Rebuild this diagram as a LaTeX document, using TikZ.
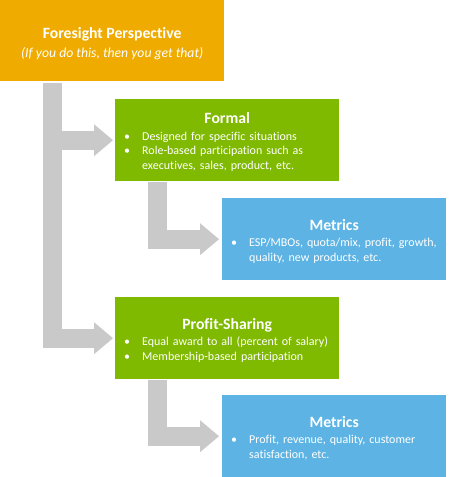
\documentclass[tikz,border=0pt]{standalone}
\usepackage{fontspec}
\setmainfont{Carlito}[Ligatures=NoCommon]
\usetikzlibrary{positioning, arrows.meta, calc}

\definecolor{foreorange}{RGB}{240,171,0}
\definecolor{plangreen}{RGB}{127,186,0}
\definecolor{metricblue}{RGB}{93,180,228}
\definecolor{flowgray}{RGB}{201,201,201}

\newcommand{\bulletline}[1]{\noindent\makebox[18pt][l]{\textbullet}%
    \parbox[t]{198pt}{\raggedright #1}\par}

\begin{document}
\begin{tikzpicture}[
        x=1pt, y=-1pt,
        every node/.style={inner sep=0pt, text=white},
        card/.style={rectangle, anchor=north west, minimum width=224pt, minimum height=82pt},
        headcard/.style={card, fill=foreorange, minimum height=81pt},
        plancard/.style={card, fill=plangreen},
        metriccard/.style={card, fill=metricblue},
        cardhead/.style={anchor=base, font=\bfseries\fontsize{15.7}{19}\selectfont},
        cardnote/.style={anchor=base, font=\itshape\fontsize{13.7}{16}\selectfont},
        cardtext/.style={anchor=base west, text width=206pt, align=left,
            font=\fontsize{12}{14.8}\selectfont},
        flowarrow/.style={draw=flowgray, line width=19pt, line join=miter,
            -{Triangle[length=19pt, width=32pt, line width=0pt]}}
    ]
        \useasboundingbox (0,0) rectangle (449,477);

        % cards
        \node[headcard] (fore) at (0,0) {};
        \node[plancard] (formal) at (115,99) {};
        \node[metriccard] (metrics1) at (222,198) {};
        \node[plancard] (profit) at (115,297) {};
        \node[metriccard] (metrics2) at (222,395) {};

        % texts
        \node[cardhead] (forehead) at ($(fore.north)+(0,38.5)$) {Foresight Perspective};
        \node[cardnote] (forenote) at ($(fore.north)+(0,57)$) {(If you do this, then you get that)};

        \node[cardhead] (formalhead) at ($(formal.north)+(0,24.3)$) {Formal};
        \node[cardtext] (formaltext) at ($(formal.north west)+(9,41)$) {%
            \bulletline{Designed for specific situations}
            \bulletline{Role-based participation such as\\executives, sales, product, etc.}};

        \node[cardhead] (metrics1head) at ($(metrics1.north)+(0,32.3)$) {Metrics};
        \node[cardtext] (metrics1text) at ($(metrics1.north west)+(9,48.5)$) {%
            \bulletline{ESP/MBOs, quota/mix, profit, growth,\\quality, new products, etc.}};

        \node[cardhead] (profithead) at ($(profit.north)+(0,32)$) {Profit-Sharing};
        \node[cardtext] (profittext) at ($(profit.north west)+(9,48.3)$) {%
            \bulletline{Equal award to all (percent of salary)}
            \bulletline{Membership-based participation}};

        \node[cardhead] (metrics2head) at ($(metrics2.north)+(0,32.3)$) {Metrics};
        \node[cardtext] (metrics2text) at ($(metrics2.north west)+(9,48.5)$) {%
            \bulletline{Profit, revenue, quality, customer\\satisfaction, etc.}};

        % flow arrows
        \coordinate (trunk) at ($(fore.south west)+(52.5,2)$);
        \coordinate (formaldrop) at ($(formal.south west)+(42.5,1)$);
        \coordinate (profitdrop) at ($(profit.south west)+(42.5,1)$);

        \draw[flowarrow] (trunk) |- ([xshift=-2pt]formal.west);
        \draw[flowarrow] (trunk) |- ([xshift=-2pt]profit.west);
        \draw[flowarrow] (formaldrop) |- ([xshift=-3pt]metrics1.west);
        \draw[flowarrow] (profitdrop) |- ([xshift=-3pt]metrics2.west);
\end{tikzpicture}
\end{document}
